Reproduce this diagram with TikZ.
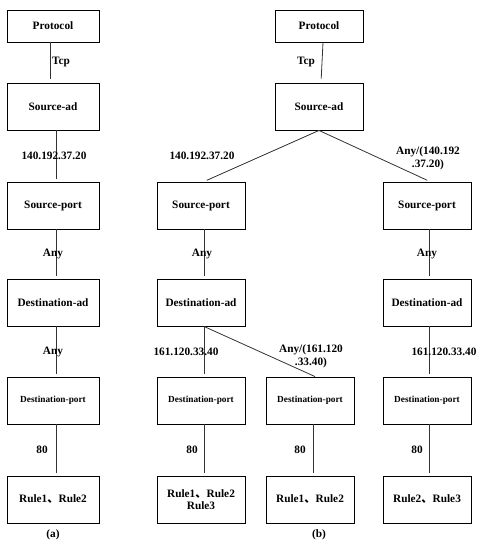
\documentclass[tikz,border=0pt]{standalone}
\usepackage{fontspec}
\setmainfont{Liberation Serif}
\newfontfamily\cjk{Noto Sans CJK SC}
\begin{document}
\begin{tikzpicture}[x=1pt,y=-1pt,
  box/.style={draw,line width=0.9pt,minimum width=88pt,minimum height=47pt,inner sep=0pt,align=center,font=\bfseries\fontsize{11.3}{12}\selectfont},
  small/.style={font=\bfseries\fontsize{9.3}{11}\selectfont},
  lbl/.style={inner sep=0pt,align=center,font=\bfseries\fontsize{11.3}{13}\selectfont},
  link/.style={draw=black!80,line width=0.8pt,shorten >=3pt}]
\useasboundingbox (0,0) rectangle (479,550);
% column (a)
\node[box,minimum width=92pt,minimum height=32pt] (pa) at (53,26) {Protocol};
\node[box,minimum width=92pt] (sa) at (53,106.5) {Source-ad};
\node[box,minimum width=92pt] (spa) at (53,205.5) {Source-port};
\node[box,minimum width=92pt] (da) at (53,302.5) {Destination-ad};
\node[box,minimum width=92pt,small] (dpa) at (53,400.5) {Destination-port};
\node[box,minimum width=92pt] (ra) at (53,499.5) {Rule1{\cjk 、}Rule2};
% column (b)
\node[box,minimum height=32pt] (pb) at (319,26) {Protocol};
\node[box] (sb) at (319,106.5) {Source-ad};
\node[box] (spl) at (201,205.5) {Source-port};
\node[box] (spr) at (427,205.5) {Source-port};
\node[box] (dal) at (201,302.5) {Destination-ad};
\node[box] (dar) at (427,302.5) {Destination-ad};
\node[box,small] (dpl) at (201,400.5) {Destination-port};
\node[box,small] (dpm) at (310,400.5) {Destination-port};
\node[box,small] (dpr) at (427,400.5) {Destination-port};
\node[box] (rl) at (201,499.5) {Rule1{\cjk 、}Rule2\\Rule3};
\node[box] (rm) at (310,499.5) {Rule1{\cjk 、}Rule2};
\node[box] (rr) at (427,499.5) {Rule2{\cjk 、}Rule3};
% connectors (a)
\draw[link,shorten >=4pt] ([xshift=-3pt]pa.south) -- ([xshift=-3pt]sa.north);
\draw[link] ([xshift=3pt]sa.south) -- ([xshift=3pt]spa.north);
\draw[link] ([xshift=3pt]spa.south) -- ([xshift=3pt]da.north);
\draw[link] ([xshift=3pt]da.south) -- ([xshift=3pt]dpa.north);
\draw[link] ([xshift=3pt]dpa.south) -- ([xshift=3pt]ra.north);
% connectors (b)
\draw[link,shorten >=4pt] ([xshift=4pt]pb.south) -- ([xshift=2pt]sb.north);
\draw[link] (sb.south) -- ([xshift=3pt]spl.north);
\draw[link] (sb.south) -- ([xshift=3pt]spr.north);
\draw[link] ([xshift=3pt]spl.south) -- ([xshift=3pt]dal.north);
\draw[link] ([xshift=2pt]spr.south) -- ([xshift=2pt]dar.north);
\draw[link] ([xshift=3pt]dal.south) -- ([xshift=3pt]dpl.north);
\draw[link,shorten >=0pt] ([xshift=3pt]dal.south) -- ([xshift=5pt]dpm.north);
\draw[link] ([xshift=2pt]dar.south) -- ([xshift=2pt]dpr.north);
\draw[link] ([xshift=3pt]dpl.south) -- ([xshift=3pt]rl.north);
\draw[link] ([xshift=3pt]dpm.south) -- ([xshift=3pt]rm.north);
\draw[link] ([xshift=2pt]dpr.south) -- ([xshift=2pt]rr.north);
% labels (a)
\node[lbl] (l1) at (61,62) {Tcp};
\node[lbl] (l2) at (54,156) {140.192.37.20};
\node[lbl] (l3) at (53,254) {Any};
\node[lbl] (l4) at (53,352) {Any};
\node[lbl] (l5) at (42,450) {80};
\node[lbl] (ca) at (53,535) {(a)};
% labels (b)
\node[lbl] (l6) at (306,62) {Tcp};
\node[lbl] (l7) at (202,156) {140.192.37.20};
\node[lbl] (l8) at (428,158) {Any/(140.192\\.37.20)};
\node[lbl] (l9) at (202,254) {Any};
\node[lbl] (l10) at (427,254) {Any};
\node[lbl] (l11) at (186,352) {161.120.33.40};
\node[lbl] (l12) at (311,356) {Any/(161.120\\.33.40)};
\node[lbl] (l13) at (444,352) {161.120.33.40};
\node[lbl] (l14) at (192,450) {80};
\node[lbl] (l15) at (300,450) {80};
\node[lbl] (l16) at (417,450) {80};
\node[lbl] (cb) at (319,535) {(b)};
\end{tikzpicture}
\end{document}
